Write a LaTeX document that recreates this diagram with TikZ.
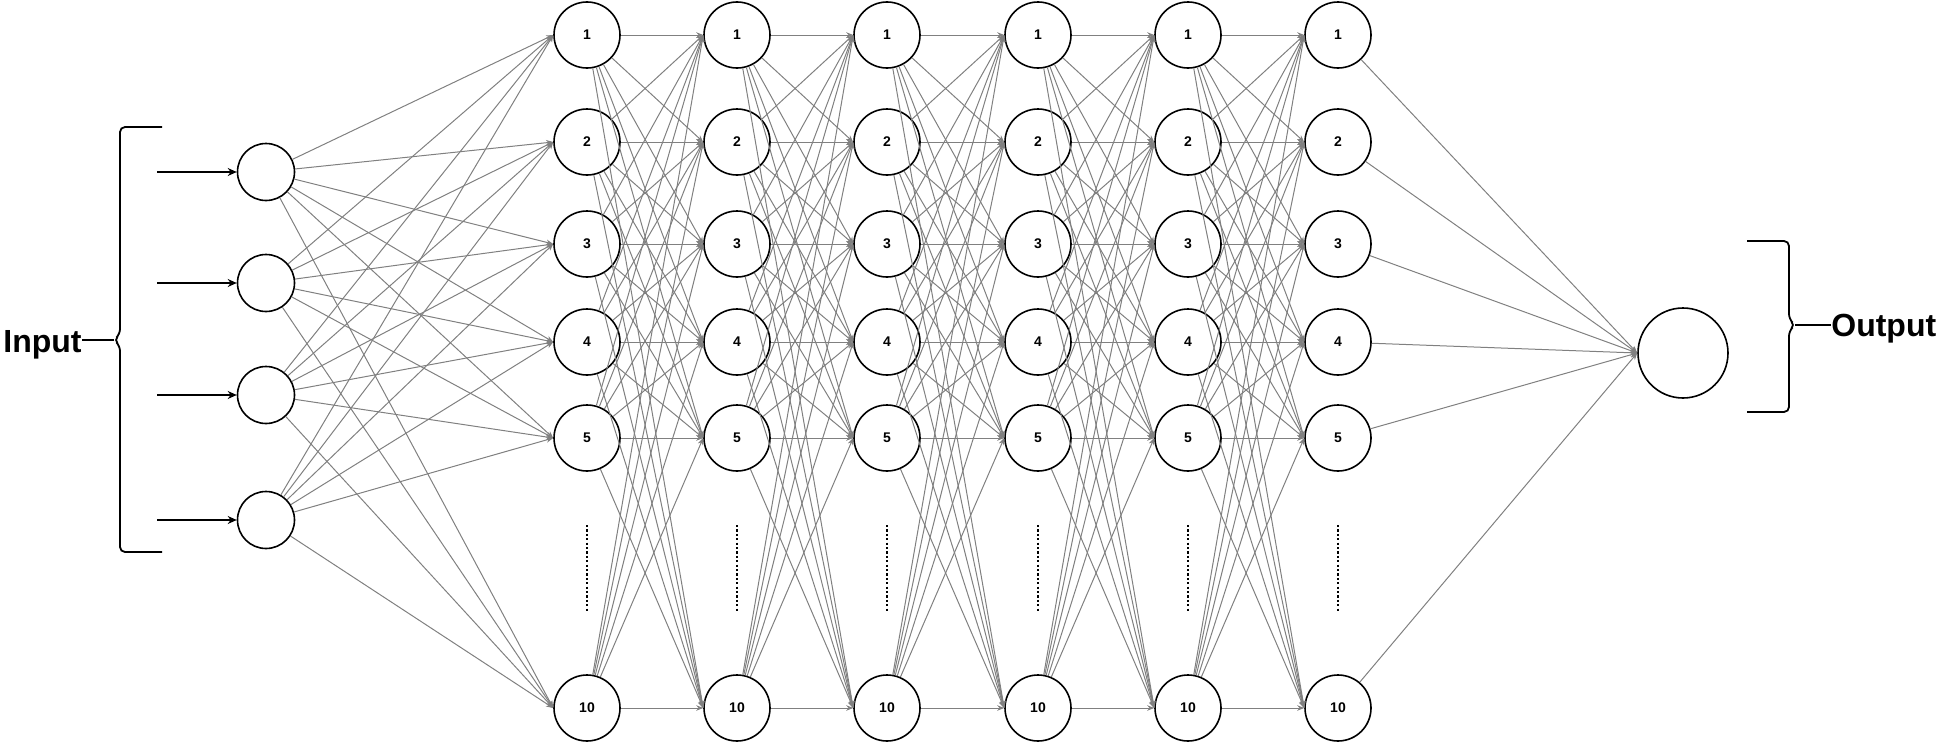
\documentclass[tikz,border=0pt]{standalone}
\usepackage{fontspec}
\setmainfont{Liberation Sans}
\usetikzlibrary{arrows.meta}

\tikzset{every picture/.style={line width=0.75pt}}
\tikzset{
  neuron/.style={draw, circle, line width=1.6pt, minimum size=66pt, inner sep=0pt, font=\fontsize{14}{14}\selectfont\bfseries},
  inneuron/.style={draw, circle, line width=1.6pt, minimum size=57pt, inner sep=0pt},
  outneuron/.style={draw, circle, line width=1.6pt, minimum size=90pt, inner sep=0pt},
  wire/.style={color={rgb, 255:red, 128; green, 128; blue, 128 }, line width=1pt, -{Stealth[length=7pt,width=5.5pt]}},
  feed/.style={line width=1.5pt, -{Stealth[length=9pt,width=8pt]}},
  brace/.style={line width=1.8pt, rounded corners=5pt},
  vdots/.style={line width=2.2pt, dash pattern={on 2.2pt off 2.2pt}},
  caption/.style={inner sep=0pt, font=\fontsize{32}{32}\selectfont\bfseries}
}

\begin{document}
\begin{tikzpicture}[x=1pt,y=1pt,yscale=-1,xscale=1]
    \useasboundingbox (0,0) rectangle (1939,744);

    %Shape: Circle (input layer)
    \foreach \n/\y in {1/172,2/283,3/395,4/520} {
      \node[inneuron] (in\n) at (266,\y) {};
      \coordinate (src\n) at (157,\y);
      \draw[feed] (src\n) -- (in\n);
    }
    %Shape: Circle (hidden layers)
    \foreach \l [count=\c] in {587,737,887,1038,1188,1338} {
      \foreach \n/\y in {1/35,2/142,3/244,4/342,5/438,10/708}
        \node[neuron] (h\c-\n) at (\l,\y) {\n};
      %Straight Lines (dots)
      \draw[vdots] (\l,525) -- (\l,612);
    }
    %Shape: Circle (output)
    \node[outneuron] (out) at (1683,353) {};

    %Straight Lines
    \foreach \i in {1,...,4}
      \foreach \j in {1,2,3,4,5,10}
        \draw[wire] (in\i) -- (h1-\j.west);
    \foreach \c [evaluate=\c as \d using int(\c+1)] in {1,...,5}
      \foreach \i in {1,2,3,4,5,10}
        \foreach \j in {1,2,3,4,5,10}
          \draw[wire] (h\c-\i) -- (h\d-\j.west);
    \foreach \i in {1,2,3,4,5,10}
      \draw[wire] (h6-\i) -- (out.west);

    %Shape: Brace
    \draw[brace] (162,127) -- (120,127) -- (120,334) -- (114,340) -- (120,346) -- (120,552) -- (162,552);
    \coordinate (inTip) at (114,340);
    \draw[brace] (1747,241) -- (1789,241) -- (1789,319) -- (1795,325) -- (1789,331) -- (1789,412) -- (1747,412);
    \coordinate (outTip) at (1795,325);

    % Text Node
    \node[caption, anchor=base east] (inLabel) at (82,352) {Input};
    % Text Node
    \node[caption, anchor=base west] (outLabel) at (1831,336) {Output};
    \draw[line width=1.8pt] (inTip) -- (inTip -| inLabel.east);
    \draw[line width=1.8pt] (outTip) -- (outTip -| outLabel.west);

\end{tikzpicture}
\end{document}
